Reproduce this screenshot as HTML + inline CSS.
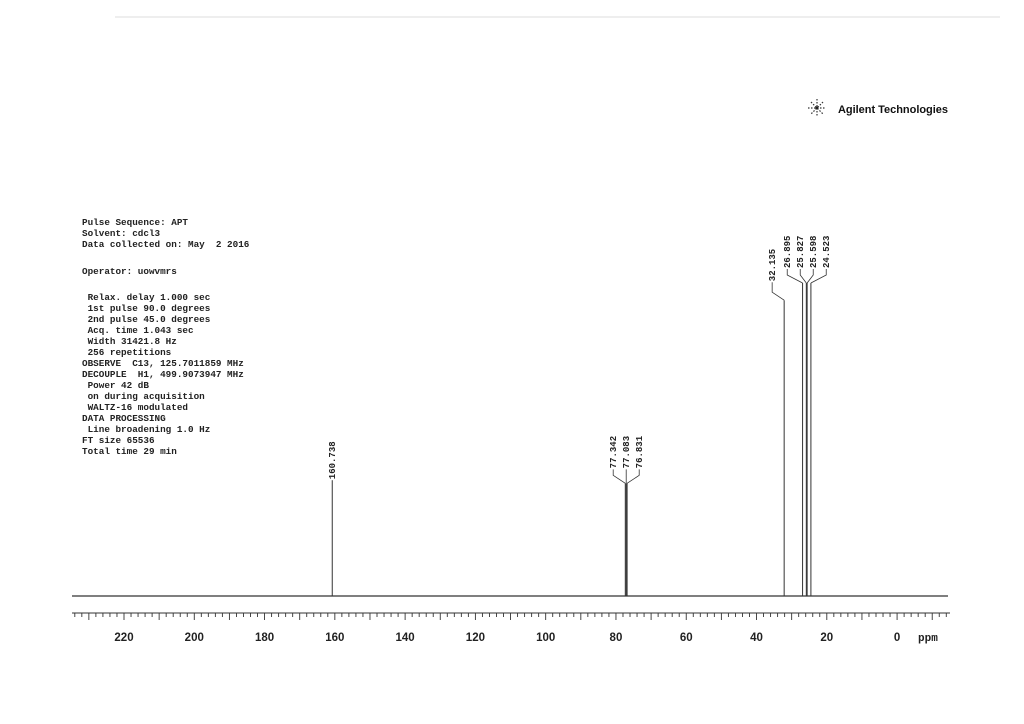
<!DOCTYPE html>
<html><head><meta charset="utf-8"><style>
body{margin:0;background:#fff;}
svg{display:block;}
.mono{font-family:"Liberation Mono",monospace;font-weight:bold;font-size:9.3px;fill:#222;}
.pk{font-family:"Liberation Mono",monospace;font-weight:bold;font-size:9px;fill:#222;}
</style></head><body>
<svg width="1024" height="724" viewBox="0 0 1024 724" xmlns="http://www.w3.org/2000/svg">
<line x1="115" y1="17" x2="1000" y2="17" stroke="#ddd" stroke-width="1"/>
<g>
  <g stroke="#333" stroke-width="1.2" stroke-dasharray="1.5 1.5">
    <line x1="808" y1="108" x2="826" y2="108"/><line x1="817" y1="99" x2="817" y2="117"/>
    <line x1="811" y1="102" x2="823" y2="114"/><line x1="823" y1="102" x2="811" y2="114"/>
  </g>
  <circle cx="817" cy="108" r="1.5" fill="#222"/>
  <text x="838" y="113" font-family="Liberation Sans, sans-serif" font-weight="bold" font-size="11" fill="#111" textLength="110">Agilent Technologies</text>
</g>
<g class="mono">
<text x="82" y="225">Pulse Sequence: APT</text>
<text x="82" y="236">Solvent: cdcl3</text>
<text x="82" y="247">Data collected on: May&#160; 2 2016</text>
<text x="82" y="274">Operator: uowvmrs</text>
<text x="82" y="300">&#160;Relax. delay 1.000 sec</text>
<text x="82" y="311">&#160;1st pulse 90.0 degrees</text>
<text x="82" y="322">&#160;2nd pulse 45.0 degrees</text>
<text x="82" y="333">&#160;Acq. time 1.043 sec</text>
<text x="82" y="344">&#160;Width 31421.8 Hz</text>
<text x="82" y="355">&#160;256 repetitions</text>
<text x="82" y="366">OBSERVE&#160; C13, 125.7011859 MHz</text>
<text x="82" y="377">DECOUPLE&#160; H1, 499.9073947 MHz</text>
<text x="82" y="388">&#160;Power 42 dB</text>
<text x="82" y="399">&#160;on during acquisition</text>
<text x="82" y="410">&#160;WALTZ-16 modulated</text>
<text x="82" y="421">DATA PROCESSING</text>
<text x="82" y="432">&#160;Line broadening 1.0 Hz</text>
<text x="82" y="443">FT size 65536</text>
<text x="82" y="454">Total time 29 min</text>
</g>
<g id="plot"></g>
</svg>
<script>
const peakPpm = [160.738, 77.342, 77.083, 76.831, 32.135, 26.895, 25.827, 25.598, 24.523];
const peakHeight = [37, 36, 36, 36, 94.5, 100, 100, 100, 100];
const peakLabels = ["160.738","77.342","77.083","76.831","32.135","26.895","25.827","25.598","24.523"];
const labelGroups = [[0],[1,2,3],[4],[5,6,7,8]];
const axisTicks = [220,200,180,160,140,120,100,80,60,40,20,0];

const NS="http://www.w3.org/2000/svg";
const g=document.getElementById('plot');
const X=p=>124+(220-p)*3.514;
const BASE=596, SCALE=3.13;
const Y=h=>BASE-h*SCALE;
function el(t,a,parent){const e=document.createElementNS(NS,t);for(const k in a)e.setAttribute(k,a[k]);(parent||g).appendChild(e);return e;}

const bl=el('line',{x1:72,y1:BASE,x2:948,y2:BASE,stroke:'#333','stroke-width':1.3});


peakPpm.forEach((p,i)=>{
  const l=el('line',{x1:X(p),y1:BASE,x2:X(p),y2:Y(peakHeight[i]),stroke:'#333','stroke-width':1});
  
  
});
labelGroups.forEach(grp=>{
  const top=Math.min(...grp.map(i=>Y(peakHeight[i])));
  const n=grp.length;
  let cx=grp.reduce((s,i)=>s+X(peakPpm[i]),0)/n;
  let slant=n>1?8:0, rise=n>1?6:0;
  if(n===1 && peakHeight[grp[0]]>80){cx-=12;slant=8;rise=10;}
  grp.forEach((i,k)=>{
    const lx=cx+(k-(n-1)/2)*13;
    const px=X(peakPpm[i]);
    const yMid=top-slant, yEnd=yMid-rise;
    const pl=el('polyline',{points:`${lx},${yEnd} ${lx},${yMid} ${px},${top}`,fill:'none',stroke:'#333','stroke-width':0.8});
    
    
    const t=el('text',{x:-(yEnd-1),y:0,class:'pk',transform:`translate(${lx+3} 0) rotate(-90)`});
    
    
    t.textContent=peakLabels[i];
  });
});
const ax=el('line',{x1:72,y1:613,x2:950,y2:613,stroke:'#333','stroke-width':1});


for(let p=234;p>=-14;p-=2){
  const major=p%10===0;
  const tk=el('line',{x1:X(p),y1:613,x2:X(p),y2:major?620:617,stroke:'#333','stroke-width':0.9});
  
  
}
axisTicks.forEach(p=>{
  const t=el('text',{x:X(p),y:641,'text-anchor':'middle','font-family':'Liberation Sans, sans-serif','font-weight':'bold','font-size':'11.5',fill:'#222'});
  
  
  t.textContent=p;
});
const u=el('text',{x:918,y:641,'font-family':'Liberation Mono, monospace','font-weight':'bold','font-size':'11',fill:'#222'});


u.textContent='ppm';
</script>
</body></html>
